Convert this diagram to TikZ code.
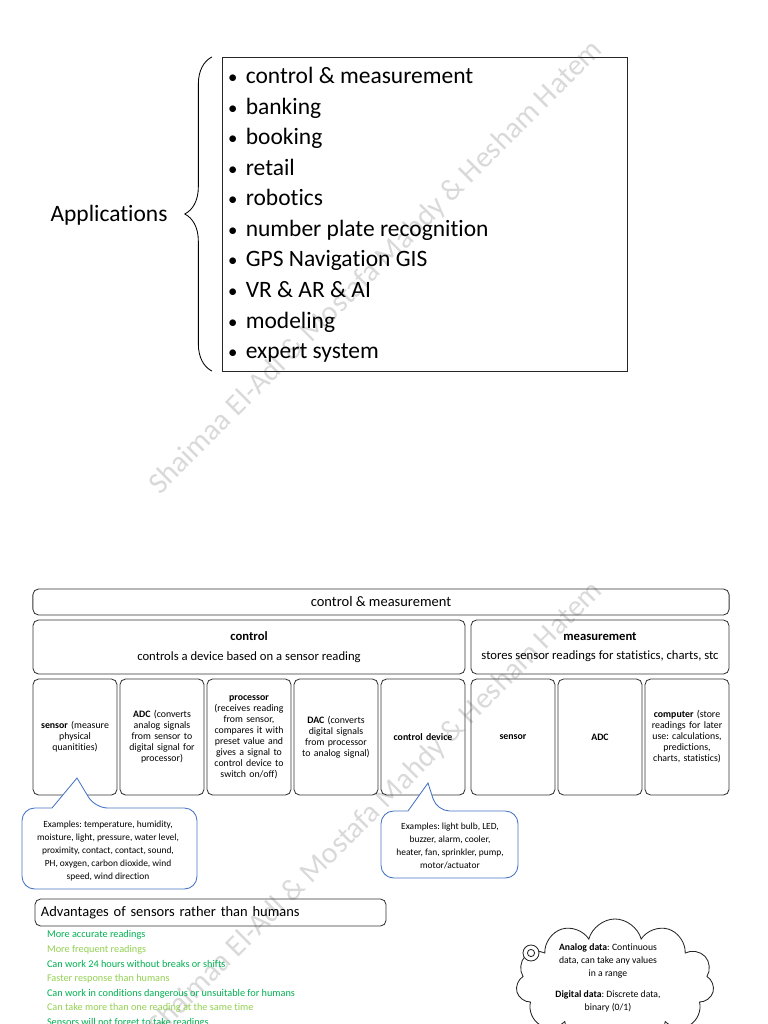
\documentclass[tikz,border=0pt]{standalone}
\usepackage{fontspec}
\setmainfont{Carlito}[Ligatures=NoCommon]
\usepackage{tikz}
\usetikzlibrary{decorations.pathreplacing, shapes.symbols}

\definecolor{callblue}{RGB}{68,114,196}
\definecolor{advdark}{RGB}{0,176,80}
\definecolor{advlight}{RGB}{146,208,80}
\frenchspacing

\begin{document}
\begin{tikzpicture}[x=0.025cm, y=-0.025cm,
    every node/.style={inner sep=0pt, outer sep=0pt},
    big/.style={font=\fontsize{16.7}{20}\selectfont},
    rbox/.style={draw=black!80, line width=0.6pt, rounded corners=4pt, inner sep=2pt},
    unit/.style={rbox, minimum width=2.1cm, minimum height=2.9cm, text width=1.95cm, align=center, font=\fontsize{7}{7.8}\selectfont},
    head/.style={rbox, align=center, font=\fontsize{9}{14}\selectfont},
    callout/.style={draw=callblue, line width=0.6pt, fill=white},
    note/.style={align=center, font=\fontsize{6.7}{9.25}\selectfont},
    adv/.style={anchor=west, font=\fontsize{7.3}{8}\selectfont},
    wmark/.style={rotate=45, anchor=base west, text=black!15, font=\fontsize{21.3}{22}\selectfont}]
    \useasboundingbox (0,0) rectangle (768,1024);
    \clip (0,0) rectangle (768,1024);

    % Watermark
    \node[wmark] (wmark1) at (160,495) {Shaimaa El-Adl \& Mostafa Mahdy \& Hesham Hatem};
    \node[wmark] (wmark2) at (160,1036) {Shaimaa El-Adl \& Mostafa Mahdy \& Hesham Hatem};

    % Applications list
    \node[big] (apps) at (109,215) {Applications};
    \node[draw=black!85, line width=0.6pt, minimum width=10.125cm, minimum height=7.85cm] (list) at (424.5,214) {};
    \foreach \entry [count=\i from 0] in {control \& measurement, banking, booking, retail, robotics, number plate recognition, GPS Navigation GIS, VR \& AR \& AI, modeling, expert system}
        \node[big, anchor=base west] (app\i) at (228, 84+30.5*\i) {\scalebox{0.8}{\textbullet}\hspace{6pt}\entry};
    \draw[decorate, decoration={brace, amplitude=0.68cm}, line width=0.6pt]
        ([xshift=-0.25cm]list.south west) -- ([xshift=-0.25cm]list.north west);

    % Control & measurement
    \node[rbox, minimum width=17.4cm, minimum height=0.65cm, font=\fontsize{10.3}{12}\selectfont] (cm) at (381,602) {control \& measurement};
    \node[head, minimum width=10.8cm, minimum height=1.35cm] (control) at (249,647) {\textbf{control}\\controls a device based on a sensor reading};
    \node[head, minimum width=6.45cm, minimum height=1.35cm] (measure) at (600,647) {\textbf{measurement}\\stores sensor readings for statistics, charts, stc};

    \node[unit] (sensor) at (75,737) {\textbf{sensor} (measure\\physical\\quanitities)};
    \node[unit] (adc) at (162,737) {\textbf{ADC} (converts\\analog signals\\from sensor to\\digital signal for\\processor)};
    \node[unit] (proc) at (249,737) {\textbf{processor}\\(receives reading\\from sensor,\\compares it with\\preset value and\\gives a signal to\\control device to\\switch on/off)};
    \node[unit] (dac) at (336,737) {\textbf{DAC} (converts\\digital signals\\from processor\\to analog signal)};
    \node[unit] (device) at (423,737) {\textbf{control device}};
    \node[unit] (msensor) at (513,737) {\textbf{sensor}};
    \node[unit] (madc) at (600,737) {\textbf{ADC}};
    \node[unit] (comp) at (687,737) {\textbf{computer} (store\\readings for later\\use: calculations,\\predictions,\\charts, statistics)};

    % Examples callouts
    \draw[callout] (52,808) [rounded corners=9] -- (22,808) -- (22,889) -- (197,889) -- (197,808) -- (95,808) [sharp corners] -- (77,778) -- cycle;
    \node[note] (ex1) at (108,851) {Examples: temperature, humidity,\\moisture, light, pressure, water level,\\proximity, contact, contact, sound,\\PH, oxygen, carbon dioxide, wind\\speed, wind direction};
    \draw[callout] (408,811) [rounded corners=9] -- (381,811) -- (381,878) -- (518,878) -- (518,811) -- (437,811) [sharp corners] -- (428,783) -- cycle;
    \node[note] (ex2) at (450,846) {Examples: light bulb, LED,\\buzzer, alarm, cooler,\\heater, fan, sprinkler, pump,\\motor/actuator};

    % Advantages
    \node[rbox, inner xsep=0.15cm, minimum width=8.775cm, minimum height=0.675cm, text width=8.475cm, align=left, font=\fontsize{10.3}{12}\selectfont] (advbox) at (210.5,912.5) {Advantages of sensors rather than humans};
    \foreach \txt/\col [count=\i from 0] in {More accurate readings/advdark, More frequent readings/advlight, Can work 24 hours without breaks or shifts/advdark, Faster response than humans/advlight, Can work in conditions dangerous or unsuitable for humans/advdark, Can take more than one reading at the same time/advlight, Sensors will not forget to take readings/advdark}
        \node[adv, text=\col] (adv\i) at (47, 935+14.65*\i) {\txt};

    % Analog / digital cloud
    \node[cloud, draw=black!85, line width=0.6pt, cloud puffs=11, cloud ignores aspect, minimum width=4.95cm, minimum height=3.2cm] (cloud) at (615,983) {};
    \draw[black!85, line width=0.6pt, fill=white] (531,953) circle (0.2cm);
    \draw[black!85, line width=0.6pt] (531,953) circle (0.09cm);
    \node[note, font=\fontsize{6.9}{9.25}\selectfont] (data) at (608,978) {\textbf{Analog data}: Continuous\\data, can take any values\\in a range\\[5.5pt]\textbf{Digital data}: Discrete data,\\binary (0/1)};
\end{tikzpicture}
\end{document}
